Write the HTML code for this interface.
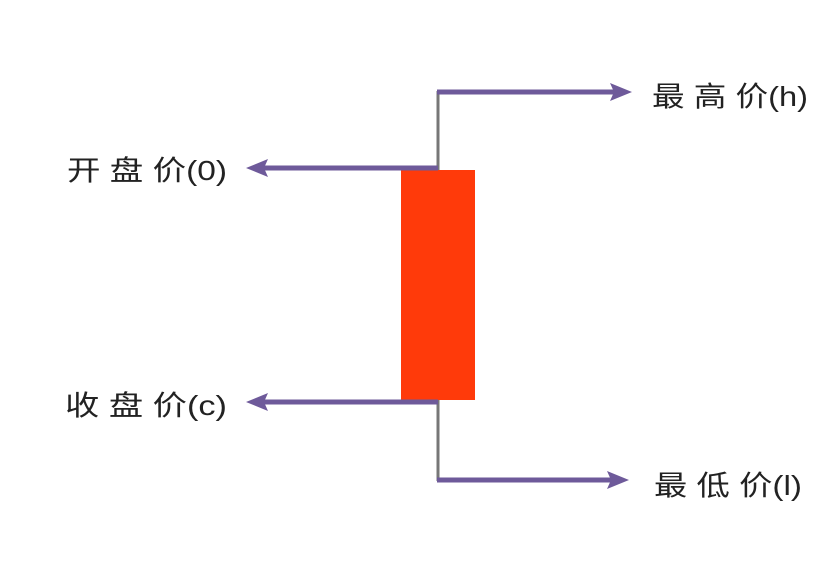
<!DOCTYPE html>
<html><head><meta charset="utf-8"><style>
html,body{margin:0;padding:0;background:#fff;}
svg{display:block}
text{font-family:"Liberation Sans","Noto Sans CJK SC",sans-serif;font-size:28px;fill:#222;}
</style></head><body>
<svg width="828" height="572" viewBox="0 0 828 572">
<rect width="828" height="572" fill="#fff"/>
<rect x="401" y="170" width="74" height="230" fill="#ff3a0a"/>
<g stroke="#777" stroke-width="3">
<line x1="438" y1="91" x2="438" y2="170"/>
<line x1="438" y1="400" x2="438" y2="481"/>
</g>
<g stroke="#6e5a9a" stroke-width="5" fill="none">
<line x1="437" y1="92" x2="615" y2="92"/>
<line x1="437" y1="480" x2="612" y2="480"/>
<line x1="438" y1="168" x2="262" y2="168"/>
<line x1="438" y1="402" x2="262" y2="402"/>
</g>
<g fill="#6e5a9a">
<polygon points="632,92 610,83 614,92 610,101"/>
<polygon points="629,480 607,471 611,480 607,489"/>
<polygon points="246,168 268,159 264,168 268,177"/>
<polygon points="246,402 268,393 264,402 268,411"/>
</g>
<text x="67" y="180" textLength="160" lengthAdjust="spacingAndGlyphs">开 盘 价(0)</text>
<text x="65" y="415" textLength="162" lengthAdjust="spacingAndGlyphs">收 盘 价(c)</text>
<text x="652" y="106" textLength="156" lengthAdjust="spacingAndGlyphs">最 高 价(h)</text>
<text x="654" y="495" textLength="148" lengthAdjust="spacingAndGlyphs">最 低 价(l)</text>
</svg>
</body></html>
